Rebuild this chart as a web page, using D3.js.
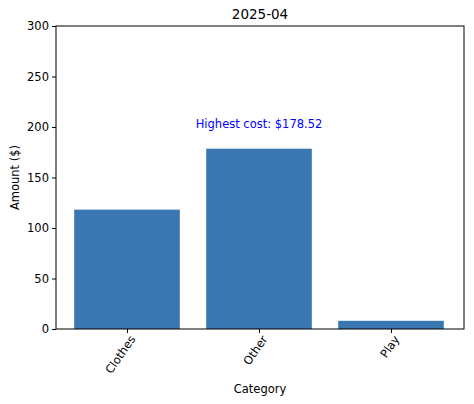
<!DOCTYPE html>
<html><head><meta charset="utf-8">
<script src="https://cdn.jsdelivr.net/npm/d3@7"></script>
<style>body{margin:0;background:#fff}text{font-family:"DejaVu Sans",sans-serif}</style>
</head><body>
<svg id="chart" width="474" height="404"></svg>
<script>
var categories = ['Clothes', 'Other', 'Play']
var amounts = [118.2, 178.52, 8.1]
var yTicks = [0, 50, 100, 150, 200, 250, 300]

var padL = 56, padR = 464, padT = 26, padB = 329
var svg = d3.select('#chart')

var x = d3.scaleLinear().domain([-0.538, 2.553]).range([padL, padR])
var y = d3.scaleLinear().domain([0, 300]).range([padB, padT])
var barW = x(0.8) - x(0)

svg.selectAll('rect.bar')
    .data(amounts)
    .enter().append('rect')
        .attr('class', 'bar')
        .attr('x', function(d, i) { return x(i) - barW / 2 })
        .attr('y', function(d) { return y(d) })
        .attr('width', barW)
        .attr('height', function(d) { return y(0) - y(d) })
        .style('fill', '#3a76af')

var maxI = d3.maxIndex(amounts)
svg.append('text')
    .attr('x', x(maxI)).attr('y', y(amounts[maxI] + 20))
    .attr('text-anchor', 'middle').style('font-size', '11.5px').style('fill', 'blue')
    .text('Highest cost: $' + amounts[maxI].toFixed(2))

var yAxis = svg.append('g').attr('transform', 'translate(' + padL + ',0)')
    .call(d3.axisLeft(y).tickValues(yTicks).tickSize(4).tickPadding(3))
var xAxis = svg.append('g').attr('transform', 'translate(0,' + padB + ')')
    .call(d3.axisBottom(x).tickValues([0, 1, 2]).tickFormat(function(i) { return categories[i] }).tickSize(4))
xAxis.selectAll('text')
    .attr('text-anchor', 'end').attr('dx', '-0.3em').attr('dy', '0.5em')
    .attr('transform', 'rotate(-55)')
svg.selectAll('.domain').remove()
svg.selectAll('.tick text').style('font-size', '11.5px').style('fill', '#000')
svg.selectAll('.tick line').style('stroke', '#000')

svg.append('rect').attr('x', padL).attr('y', padT)
    .attr('width', padR - padL).attr('height', padB - padT)
    .style('fill', 'none').style('stroke', '#000').style('stroke-width', 1)

svg.append('text').attr('x', (padL + padR) / 2).attr('y', 19)
    .attr('text-anchor', 'middle').style('font-size', '13.5px').text('2025-04')
svg.append('text').attr('x', (padL + padR) / 2).attr('y', 393)
    .attr('text-anchor', 'middle').style('font-size', '11.5px').text('Category')
svg.append('text').attr('transform', 'translate(19,' + (padT + padB) / 2 + ') rotate(-90)')
    .attr('text-anchor', 'middle').style('font-size', '11.5px').text('Amount ($)')
</script>
</body></html>
